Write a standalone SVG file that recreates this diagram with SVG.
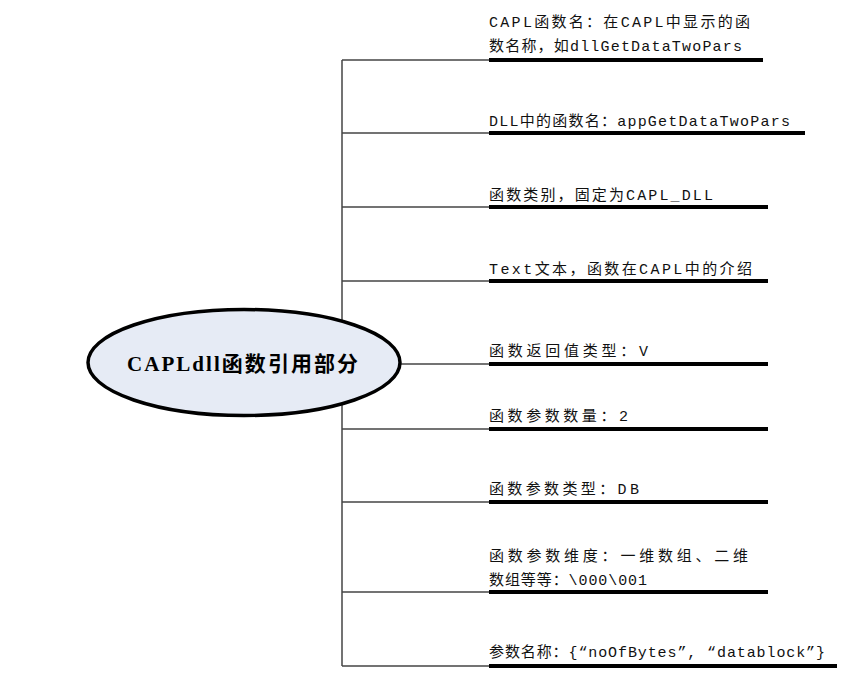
<svg xmlns="http://www.w3.org/2000/svg" width="845" height="685" viewBox="0 0 845 685">
<style>
.lbl{font-family:"Liberation Mono","Noto Sans CJK SC",monospace;font-size:15px;fill:#111}
.ul{stroke:#000;stroke-width:4;fill:none}
.br{stroke:#444;stroke-width:1.5;fill:none}
.main{font-family:"Liberation Serif","Noto Sans CJK SC",serif;font-size:21px;font-weight:bold;fill:#000}
</style>
<rect width="845" height="685" fill="#fff"/>
<g id="connectors">
<line class="br" x1="342" y1="60" x2="342" y2="666"/>
<line class="br" x1="342" y1="60" x2="489" y2="60"/>
<line class="br" x1="342" y1="133" x2="489" y2="133"/>
<line class="br" x1="342" y1="207" x2="489" y2="207"/>
<line class="br" x1="342" y1="281" x2="489" y2="281"/>
<line class="br" x1="342" y1="364" x2="489" y2="364"/>
<line class="br" x1="342" y1="429" x2="489" y2="429"/>
<line class="br" x1="342" y1="502" x2="489" y2="502"/>
<line class="br" x1="342" y1="592" x2="489" y2="592"/>
<line class="br" x1="342" y1="666" x2="489" y2="666"/>
</g>
<g id="root">
<ellipse cx="244" cy="362.5" rx="156" ry="53" fill="#e6ebf5" stroke="#000" stroke-width="3.5"/>
<text class="main" x="127" y="371" textLength="231" lengthAdjust="spacing">CAPLdll函数引用部分</text>
</g>
<g id="n1">
<text class="lbl" x="489" y="27" textLength="261" lengthAdjust="spacing">CAPL函数名：在CAPL中显示的函</text>
<text class="lbl" x="489" y="51" textLength="253" lengthAdjust="spacing">数名称，如dllGetDataTwoPars</text>
<line class="ul" x1="489" y1="60" x2="763" y2="60"/>
</g>
<g id="n2">
<text class="lbl" x="489" y="126" textLength="301" lengthAdjust="spacing">DLL中的函数名：appGetDataTwoPars</text>
<line class="ul" x1="489" y1="133" x2="805" y2="133"/>
</g>
<g id="n3">
<text class="lbl" x="489" y="200" textLength="224" lengthAdjust="spacing">函数类别，固定为CAPL_DLL</text>
<line class="ul" x1="489" y1="207" x2="768" y2="207"/>
</g>
<g id="n4">
<text class="lbl" x="489" y="274" textLength="263" lengthAdjust="spacing">Text文本，函数在CAPL中的介绍</text>
<line class="ul" x1="489" y1="281" x2="768" y2="281"/>
</g>
<g id="n5">
<text class="lbl" x="489" y="356" textLength="159" lengthAdjust="spacing">函数返回值类型：V</text>
<line class="ul" x1="489" y1="364" x2="768" y2="364"/>
</g>
<g id="n6">
<text class="lbl" x="489" y="421" textLength="139" lengthAdjust="spacing">函数参数数量：2</text>
<line class="ul" x1="489" y1="429" x2="768" y2="429"/>
</g>
<g id="n7">
<text class="lbl" x="489" y="494" textLength="150" lengthAdjust="spacing">函数参数类型：DB</text>
<line class="ul" x1="489" y1="502" x2="768" y2="502"/>
</g>
<g id="n8">
<text class="lbl" x="489" y="561" textLength="259" lengthAdjust="spacing">函数参数维度：一维数组、二维</text>
<text class="lbl" x="489" y="585" textLength="158" lengthAdjust="spacing">数组等等：\000\001</text>
<line class="ul" x1="489" y1="592" x2="768" y2="592"/>
</g>
<g id="n9">
<text class="lbl" x="489" y="657" textLength="336" lengthAdjust="spacing">参数名称：{“noOfBytes”, “datablock”}</text>
<line class="ul" x1="489" y1="666" x2="837" y2="666"/>
</g>
</svg>
